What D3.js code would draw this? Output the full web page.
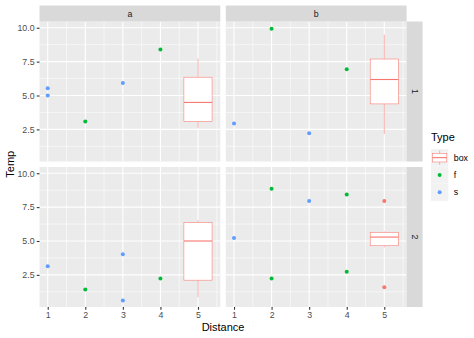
<!DOCTYPE html>
<html><head><meta charset="utf-8">
<script src="https://cdn.jsdelivr.net/npm/d3@7"></script>
<style>body{margin:0;background:#fff}svg{display:block;font-family:Arial,"Liberation Sans",sans-serif}</style>
</head><body><div id="chart"></div>
<script>
// Data
const cols = ["a", "b"];
const rows = ["1", "2"];
const xTicks = [1, 2, 3, 4, 5];
const yTicks = [2.5, 5.0, 7.5, 10.0];
const types = ["box", "f", "s"];
const colors = ["#F8766D", "#00BA38", "#619CFF"];
// points
const pointCol = ["a","a","a","a","a", "b","b","b","b", "a","a","a","a","a", "b","b","b","b","b","b"];
const pointRow = ["1","1","1","1","1", "1","1","1","1", "2","2","2","2","2", "2","2","2","2","2","2"];
const pointX   = [1,1,2,3,4, 1,2,3,4, 1,2,3,3,4, 1,2,2,3,4,4];
const pointY   = [5.54,5.0,3.09,5.93,8.40, 2.94,9.93,2.21,6.93, 3.13,1.42,4.02,0.61,2.23, 5.22,8.85,2.23,7.96,8.43,2.74];
const pointType= ["s","s","f","s","f", "s","f","s","f", "s","f","s","s","f", "s","f","f","s","f","f"];
// boxes at Distance 5
const boxCol   = ["a","b","a","b"];
const boxRow   = ["1","1","2","2"];
const boxLow   = [2.60, 2.15, 0.85, 4.53];
const boxQ1    = [3.09, 4.38, 2.11, 4.65];
const boxMed   = [4.49, 6.18, 5.00, 5.29];
const boxQ3    = [6.35, 7.69, 6.35, 5.63];
const boxHigh  = [7.72, 9.49, 6.54, 5.71];
const outCol = ["b","b"], outRow = ["2","2"], outY = [7.96, 1.59];

const W = 474, H = 338;
const svg = d3.select("#chart").append("svg").attr("width", W).attr("height", H);
const color = d3.scaleOrdinal().domain(types).range(colors);

const panelW = 180.8, panelH = 140, gap = 5.5, strip = 16;
const left0 = 39.5, top0 = 5.5 + strip;
const colX = d3.scaleOrdinal().domain(cols).range([left0, left0 + panelW + gap]);
const rowY = d3.scaleOrdinal().domain(rows).range([top0, top0 + panelH + gap]);

const xDom = [1 - 0.2188, 5.375 + 0.2188];
const yDom = [0.13, 10.46];
const x = d3.scaleLinear().domain(xDom).range([0, panelW]);
const y = d3.scaleLinear().domain(yDom).range([panelH, 0]);

cols.forEach((c) => rows.forEach((r) => {
  const g = svg.append("g").attr("transform", `translate(${colX(c)},${rowY(r)})`);
  g.append("rect").attr("width", panelW).attr("height", panelH).attr("fill", "#EBEBEB");
  const xm = [1.5, 2.5, 3.5, 4.5, 5.5];
  const ym = [1.25, 3.75, 6.25, 8.75];
  g.selectAll(".xm").data(xm).enter().append("line")
    .attr("x1", d => x(d)).attr("x2", d => x(d)).attr("y1", 0).attr("y2", panelH)
    .attr("stroke", "#fff").attr("stroke-width", 0.55);
  g.selectAll(".ym").data(ym).enter().append("line")
    .attr("y1", d => y(d)).attr("y2", d => y(d)).attr("x1", 0).attr("x2", panelW)
    .attr("stroke", "#fff").attr("stroke-width", 0.55);
  g.selectAll(".xM").data(xTicks).enter().append("line")
    .attr("x1", d => x(d)).attr("x2", d => x(d)).attr("y1", 0).attr("y2", panelH)
    .attr("stroke", "#fff").attr("stroke-width", 1.1);
  g.selectAll(".yM").data(yTicks).enter().append("line")
    .attr("y1", d => y(d)).attr("y2", d => y(d)).attr("x1", 0).attr("x2", panelW)
    .attr("stroke", "#fff").attr("stroke-width", 1.1);

  boxCol.forEach((bc, i) => {
    if (bc !== c || boxRow[i] !== r) return;
    const cx = x(5), x0 = x(4.625), x1 = x(5.375);
    const st = color("box");
    g.append("line").attr("x1", cx).attr("x2", cx).attr("y1", y(boxHigh[i])).attr("y2", y(boxQ3[i])).attr("stroke", st).attr("stroke-width", 0.55);
    g.append("line").attr("x1", cx).attr("x2", cx).attr("y1", y(boxQ1[i])).attr("y2", y(boxLow[i])).attr("stroke", st).attr("stroke-width", 0.55);
    g.append("rect").attr("x", x0).attr("width", x1 - x0).attr("y", y(boxQ3[i])).attr("height", y(boxQ1[i]) - y(boxQ3[i]))
      .attr("fill", "#fff").attr("stroke", st).attr("stroke-width", 0.55);
    g.append("line").attr("x1", x0).attr("x2", x1).attr("y1", y(boxMed[i])).attr("y2", y(boxMed[i])).attr("stroke", st).attr("stroke-width", 1.1);
  });
  outCol.forEach((oc, i) => {
    if (oc !== c || outRow[i] !== r) return;
    g.append("circle").attr("cx", x(5)).attr("cy", y(outY[i])).attr("r", 2).attr("fill", color("box"));
  });
  pointCol.forEach((pc, i) => {
    if (pc !== c || pointRow[i] !== r) return;
    g.append("circle").attr("cx", x(pointX[i])).attr("cy", y(pointY[i])).attr("r", 2).attr("fill", color(pointType[i]));
  });
}));

cols.forEach(c => {
  svg.append("rect").attr("x", colX(c)).attr("y", 5.5).attr("width", panelW).attr("height", strip).attr("fill", "#D9D9D9");
  svg.append("text").attr("x", colX(c) + panelW / 2).attr("y", 5.5 + strip / 2).attr("dy", "0.35em")
    .attr("text-anchor", "middle").attr("font-size", 8.8).attr("fill", "#1A1A1A").text(c);
});
const rsx = left0 + 2 * panelW + gap;
rows.forEach(r => {
  svg.append("rect").attr("x", rsx).attr("y", rowY(r)).attr("width", strip).attr("height", panelH).attr("fill", "#D9D9D9");
  svg.append("text").attr("transform", `translate(${rsx + strip / 2},${rowY(r) + panelH / 2}) rotate(90)`)
    .attr("dy", "0.35em").attr("text-anchor", "middle").attr("font-size", 8.8).attr("fill", "#1A1A1A").text(r);
});

rows.forEach(r => {
  const ax = svg.append("g").attr("transform", `translate(${left0},${rowY(r)})`)
    .call(d3.axisLeft(y).tickValues(yTicks).tickFormat(d3.format(".1f")).tickSize(2.75).tickPadding(2.2));
  ax.select(".domain").remove();
  ax.selectAll("line").attr("stroke", "#333").attr("stroke-width", 1.1);
  ax.selectAll("text").attr("fill", "#4D4D4D").attr("font-size", 8.8).attr("font-family", "Arial,'Liberation Sans',sans-serif");
});
cols.forEach(c => {
  const ax = svg.append("g").attr("transform", `translate(${colX(c)},${rowY("2") + panelH})`)
    .call(d3.axisBottom(x).tickValues(xTicks).tickFormat(d3.format("d")).tickSize(2.75).tickPadding(2.2));
  ax.select(".domain").remove();
  ax.selectAll("line").attr("stroke", "#333").attr("stroke-width", 1.1);
  ax.selectAll("text").attr("fill", "#4D4D4D").attr("font-size", 8.8).attr("font-family", "Arial,'Liberation Sans',sans-serif");
});

const plotMidX = left0 + (2 * panelW + gap) / 2;
svg.append("text").attr("x", plotMidX).attr("y", 331).attr("text-anchor", "middle").attr("font-size", 11).attr("fill", "#000").text("Distance");
const plotMidY = top0 + (2 * panelH + gap) / 2;
svg.append("text").attr("transform", `translate(13.5,${plotMidY}) rotate(-90)`).attr("text-anchor", "middle").attr("font-size", 11).attr("fill", "#000").text("Temp");

const lg = svg.append("g").attr("transform", "translate(431,137)");
lg.append("text").attr("x", 0).attr("y", 4).attr("font-size", 11).attr("fill", "#000").text("Type");
types.forEach((t, i) => {
  const ky = 12 + i * 17.3;
  const k = lg.append("g").attr("transform", `translate(0,${ky})`);
  k.append("rect").attr("width", 17.3).attr("height", 17.3).attr("fill", "#F2F2F2");
  if (t === "box") {
    k.append("line").attr("x1", 8.65).attr("x2", 8.65).attr("y1", 1.5).attr("y2", 15.8).attr("stroke", color(t)).attr("stroke-width", 0.55);
    k.append("rect").attr("x", 1.5).attr("y", 4.3).attr("width", 14.3).attr("height", 8.7).attr("fill", "#fff").attr("stroke", color(t)).attr("stroke-width", 0.55);
    k.append("line").attr("x1", 1.5).attr("x2", 15.8).attr("y1", 8.65).attr("y2", 8.65).attr("stroke", color(t)).attr("stroke-width", 1.1);
  } else {
    k.append("circle").attr("cx", 8.65).attr("cy", 8.65).attr("r", 2).attr("fill", color(t));
  }
  lg.append("text").attr("x", 17.3 + 5.5).attr("y", ky + 8.65).attr("dy", "0.35em").attr("font-size", 8.8).attr("fill", "#000").text(t);
});
</script></body></html>
